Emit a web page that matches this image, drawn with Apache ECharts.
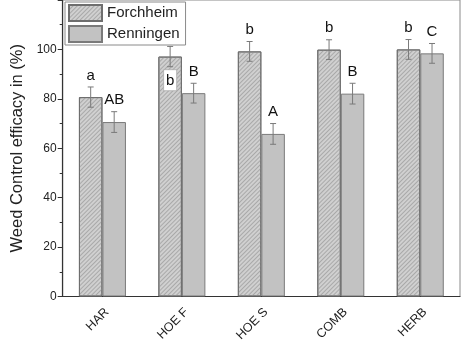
<!DOCTYPE html>
<html><head><meta charset="utf-8">
<script src="https://cdn.jsdelivr.net/npm/echarts@6/dist/echarts.min.js"></script>
<style>html,body{margin:0;padding:0;background:#fff}#c{width:474px;height:361px}</style>
</head><body><div id="c"></div>
<script>
const categories = ['HAR', 'HOE F', 'HOE S', 'COMB', 'HERB'];
const forchheim = [80.7, 97.1, 99.2, 99.9, 100];
const forchheimErr = [4.1, 4.1, 4.0, 4.0, 4.0];
const forchheimLetters = ['a', 'b', 'b', 'b', 'b'];
const renningen = [70.6, 82.3, 65.8, 82.1, 98.4];
const renningenErr = [4.2, 4.0, 4.2, 4.2, 4.0];
const renningenLetters = ['AB', 'B', 'A', 'B', 'C'];
const yTicks = [0, 20, 40, 60, 80, 100];

const BW = 23.5;
const chart = echarts.init(document.getElementById('c'));

function errSeries(vals, errs, letters, offset, insideIdx) {
  return {
    type: 'custom', z: 10,
    data: vals.map((v, i) => [i, v, errs[i]]),
    renderItem: function (params, api) {
      const ci = api.value(0), v = api.value(1), e = api.value(2);
      const c = api.coord([ci, v]);
      const t = api.coord([ci, v + e]);
      const b = api.coord([ci, v - e]);
      const x = c[0] + offset;
      const st = { stroke: '#7a7a7a', lineWidth: 1 };
      const d = params.dataIndex;
      const letter = letters[d];
      const children = [
        { type: 'line', shape: { x1: x, y1: t[1], x2: x, y2: b[1] }, style: st },
        { type: 'line', shape: { x1: x - 3, y1: t[1], x2: x + 3, y2: t[1] }, style: st },
        { type: 'line', shape: { x1: x - 3, y1: b[1], x2: x + 3, y2: b[1] }, style: st }
      ];
      if (d === insideIdx) {
        children.push({ type: 'rect', shape: { x: x - 6.5, y: b[1] + 3, width: 13, height: 21 },
          style: { fill: '#fff', stroke: '#9a9a9a', lineWidth: 0.6 }, z2: 20 });
        children.push({ type: 'text', x: x, y: b[1] + 14, z2: 21,
          style: { text: letter, fill: '#111', font: '15px Arial, "Liberation Sans"', align: 'center', verticalAlign: 'middle' } });
      } else {
        children.push({ type: 'text', x: x, y: t[1] - 4,
          style: { text: letter, fill: '#111', font: '15px Arial, "Liberation Sans"', align: 'center', verticalAlign: 'bottom' } });
      }
      return { type: 'group', children: children };
    }
  };
}

const option = {
  animation: false,
  grid: { left: 62.7, right: 14, top: -0.5, bottom: 64.5, show: true, borderColor: '#8a8a8a', borderWidth: 1 },
  legend: {
    left: 65, top: 2, orient: 'vertical', itemWidth: 33, itemHeight: 16, itemGap: 3,
    padding: [2, 6, 2, 3], borderColor: '#8a8a8a', borderWidth: 1, backgroundColor: '#fff', borderRadius: 0,
    textStyle: { fontSize: 15, color: '#222', fontFamily: 'Arial, "Liberation Sans"' },
    data: [{ name: 'Forchheim', icon: 'rect' }, { name: 'Renningen', icon: 'rect' }]
  },
  xAxis: [{
    type: 'category', data: categories,
    axisLine: { lineStyle: { color: '#333', width: 1.2 } },
    axisTick: { alignWithLabel: true, length: 5, lineStyle: { color: '#333' } },
    axisLabel: { rotate: 45, fontSize: 12.5, color: '#222', margin: 9, align: 'right', verticalAlign: 'top', fontFamily: 'Arial, "Liberation Sans"' }
  }, {
    type: 'category', data: categories, position: 'bottom', offset: 0,
    axisLine: { show: false }, axisLabel: { show: false },
    axisTick: { length: 3, lineStyle: { color: '#333' } }
  }],
  yAxis: {
    type: 'value', min: 0, max: 120, interval: 20,
    name: 'Weed Control efficacy in (%)', nameLocation: 'middle', nameGap: 36, nameRotate: 90,
    nameTextStyle: { fontSize: 16.5, color: '#222', fontFamily: 'Arial, "Liberation Sans"' },
    axisLine: { show: true, lineStyle: { color: '#333', width: 1.2 } },
    axisTick: { show: true, length: 5, lineStyle: { color: '#333' } },
    minorTick: { show: true, splitNumber: 2, length: 3, lineStyle: { color: '#333' } },
    splitLine: { show: false },
    axisLabel: { fontSize: 12, color: '#222', margin: 6, fontFamily: 'Arial, "Liberation Sans"',
      formatter: v => yTicks.indexOf(v) >= 0 ? String(v) : '' }
  },
  series: [
    { name: 'Forchheim', type: 'bar', barWidth: BW, barGap: '0%', data: forchheim,
      itemStyle: { color: '#d0d0d0', borderColor: '#6e6e6e', borderWidth: 1,
        decal: { symbol: 'rect', symbolSize: 1, color: '#a9a9a9', dashArrayX: [1, 0], dashArrayY: [1, 2], rotation: -Math.PI / 4 } } },
    { name: 'Renningen', type: 'bar', barWidth: BW, barGap: '0%', data: renningen,
      itemStyle: { color: '#c2c2c2', borderColor: '#7a7a7a', borderWidth: 1 } },
    errSeries(forchheim, forchheimErr, forchheimLetters, -BW / 2, 1),
    errSeries(renningen, renningenErr, renningenLetters, BW / 2, -1)
  ]
};
chart.setOption(option);
</script></body></html>
